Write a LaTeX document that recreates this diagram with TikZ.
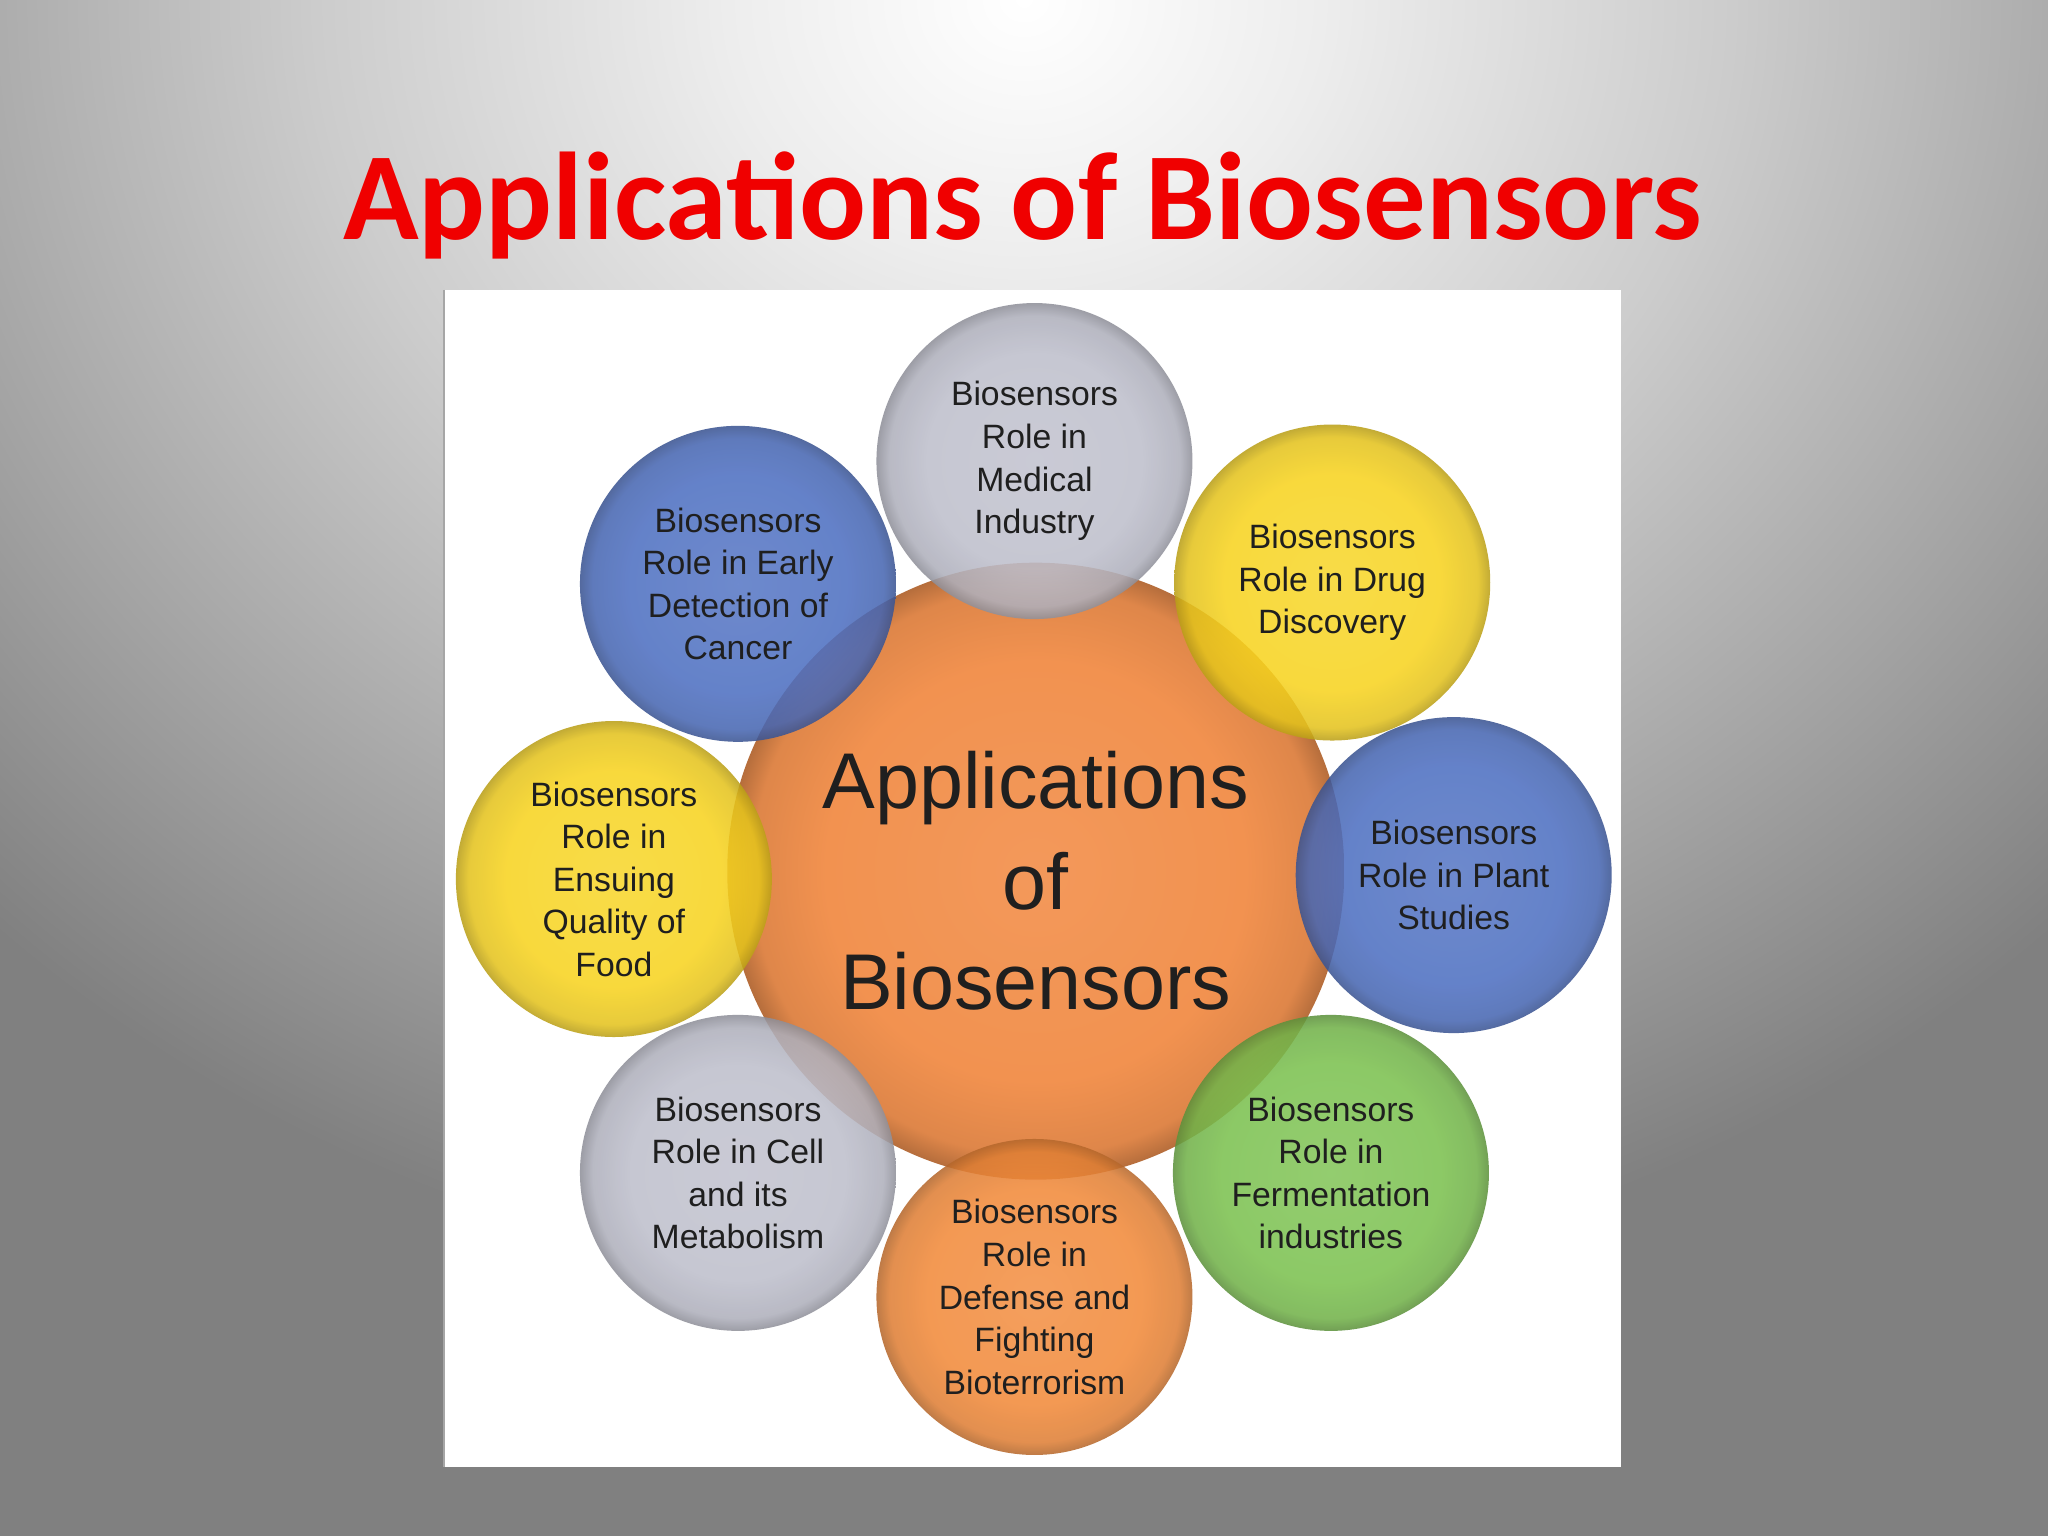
\documentclass[tikz,border=0pt]{standalone}
\usepackage{fontspec}
\setmainfont{Liberation Sans}
\newfontfamily\slidefont{Carlito}

\definecolor{corecol}{RGB}{242,146,80}
\definecolor{bubgray}{RGB}{190,191,204}
\definecolor{bubyellow}{RGB}{248,212,32}
\definecolor{bubblue}{RGB}{78,112,194}
\definecolor{bubgreen}{RGB}{124,194,80}
\definecolor{buborange}{RGB}{242,138,58}
\definecolor{titlered}{RGB}{240,0,0}

\colorlet{bubcol}{corecol}
\pgfdeclareradialshading[bubcol]{bubble}{\pgfpointorigin}{color(0bp)=(bubcol!94!white); color(17bp)=(bubcol); color(23bp)=(bubcol!92!black); color(25bp)=(bubcol!75!black); color(50bp)=(bubcol!75!black)}
\pgfdeclareradialshading{slidebg}{\pgfpointorigin}{color(0bp)=(white); color(5bp)=(black!7); color(12bp)=(black!20); color(19bp)=(black!36); color(25bp)=(black!50); color(50bp)=(black!50)}

\begin{document}
\begin{tikzpicture}[x=0.013061cm,y=-0.013061cm]
\tikzset{bub/.style={circle, inner sep=0pt, minimum size=3.16cm, shade, shading=bubble,
		/utils/exec={\colorlet{bubcol}{#1}}, fill opacity=0.87, text opacity=1,
		align=center, text=black!88, font=\fontsize{9.6}{12.1}\selectfont},
	core/.style={bub=corecol, minimum size=6.17cm, fill opacity=1,
		text height=78.8pt, text depth=0pt,
		font=\fontsize{22.5}{28.6}\selectfont}}
\useasboundingbox (0,0) rectangle (1568,1176);
\fill[black!50] (0,0) rectangle (1568,1176);
\begin{scope}
	\clip (0,0) rectangle (1568,1176);
	\shade[shading=slidebg] (784,0) ellipse (1130 and 1000);
\end{scope}
\node[anchor=base, text=titlered, font=\slidefont\bfseries\fontsize{35.5}{40}\selectfont] (title) at (783,183) {Applications of Biosensors};
\fill[white] (340,222) rectangle (1241,1123);
\draw[black!35, line width=0.4pt] (340,222) -- (340,1123);

\node[core] (apps) at (793,667) {Applications\\of\\Biosensors};

\node[bub=bubgray] (medical) at (792,353) {Biosensors\\Role in\\Medical\\Industry};
\node[bub=bubyellow] (drug) at (1020,446) {Biosensors\\Role in Drug\\Discovery};
\node[bub=bubblue] (plant) at (1113,670) {Biosensors\\Role in Plant\\Studies};
\node[bub=bubgreen] (ferment) at (1019,898) {Biosensors\\Role in\\Fermentation\\industries};
\node[bub=buborange] (defense) at (792,993) {Biosensors\\Role in\\Defense and\\Fighting\\Bioterrorism};
\node[bub=bubgray] (cell) at (565,898) {Biosensors\\Role in Cell\\and its\\Metabolism};
\node[bub=bubyellow] (food) at (470,673) {Biosensors\\Role in\\Ensuing\\Quality of\\Food};
\node[bub=bubblue] (cancer) at (565,447) {Biosensors\\Role in Early\\Detection of\\Cancer};
\end{tikzpicture}
\end{document}
